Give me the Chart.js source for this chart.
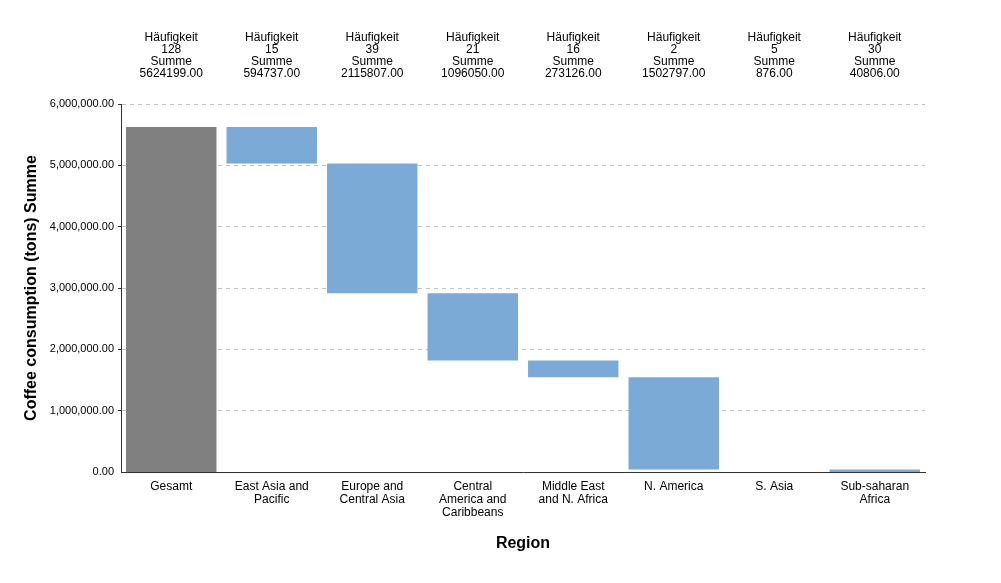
<!DOCTYPE html>
<html>
<head>
<meta charset="utf-8">
<script src="https://cdn.jsdelivr.net/npm/chart.js@4.4.1/dist/chart.umd.min.js"></script>
<style>
  html, body { margin: 0; padding: 0; background: #fff; }
  #wrap { width: 1001px; height: 583px; }
</style>
</head>
<body>
<div id="wrap"><canvas id="chart"></canvas></div>
<script>
// Waterfall: regional coffee consumption, first bar is the total
const regions = ['Gesamt', ['East Asia and', 'Pacific'], ['Europe and', 'Central Asia'],
    ['Central', 'America and', 'Caribbeans'], ['Middle East', 'and N. Africa'],
    'N. America', 'S. Asia', ['Sub-saharan', 'Africa']];
const counts = [128, 15, 39, 21, 16, 2, 5, 30];
const sums = [5624199, 594737, 2115807, 1096050, 273126, 1502797, 876, 40806];
const yTicks = [0, 1000000, 2000000, 3000000, 4000000, 5000000, 6000000];

// floating bars: total from 0, then each region drops from the running level
const bars = [];
let level = sums[0];
bars.push([0, sums[0]]);
for (let i = 1; i < sums.length; i++) {
    bars.push([level - sums[i], level]);
    level -= sums[i];
}

const topLabels = counts.map((c, i) => ['Häufigkeit', String(c), 'Summe', sums[i].toFixed(2)]);

const fmt = v => v.toLocaleString('en-US', { minimumFractionDigits: 2, maximumFractionDigits: 2 });

Chart.defaults.font.family = '"Liberation Sans", Arial, sans-serif';
Chart.defaults.color = '#000';

new Chart(document.getElementById('chart'), {
    type: 'bar',
    data: {
        labels: regions,
        datasets: [{
            data: bars,
            backgroundColor: sums.map((_, i) => i === 0 ? '#808080' : '#7baad7'),
            borderWidth: 0,
            categoryPercentage: 1,
            barPercentage: 0.9
        }]
    },
    options: {
        responsive: true,
        maintainAspectRatio: false,
        animation: false,
        layout: { padding: { left: 18, right: 76, top: 0, bottom: 26 } },
        plugins: { legend: { display: false }, tooltip: { enabled: false } },
        scales: {
            x: {
                type: 'category',
                position: 'bottom',
                grid: { display: false, drawTicks: false },
                border: { color: '#333', width: 1 },
                ticks: { font: { size: 12, lineHeight: 1.1 }, maxRotation: 0, autoSkip: false, padding: 8 },
                title: { display: true, text: 'Region', font: { size: 16, weight: 'bold' }, padding: { top: 4, bottom: 4 } },
                afterFit: s => { s.height = 583 - 472 - 26; }
            },
            xTop: {
                type: 'category',
                position: 'top',
                labels: topLabels,
                grid: { display: false, drawTicks: false },
                border: { display: false },
                ticks: { font: { size: 12, lineHeight: 1.0 }, maxRotation: 0, autoSkip: false, padding: 24 },
                afterFit: s => { s.height = 104; },
                afterBuildTicks: s => { s.ticks = topLabels.map((l, i) => ({ value: i, label: l })); }
            },
            y: {
                min: 0,
                max: 6000000,
                border: { color: '#333', width: 1, dash: [4, 4] },
                grid: {
                    color: '#c0c0c0',
                    tickColor: '#333',
                    tickLength: 3,
                    lineWidth: ctx => ctx.tick && ctx.tick.value === 0 ? 0 : 1
                },
                ticks: {
                    font: { size: 11 },
                    padding: 4,
                    callback: v => fmt(v)
                },
                afterBuildTicks: s => { s.ticks = yTicks.map(v => ({ value: v })); },
                title: { display: true, text: 'Coffee consumption (tons) Summe', font: { size: 16, weight: 'bold' } },
                afterFit: s => { s.width = 121 - 18; }
            }
        }
    }
});
</script>
</body>
</html>
